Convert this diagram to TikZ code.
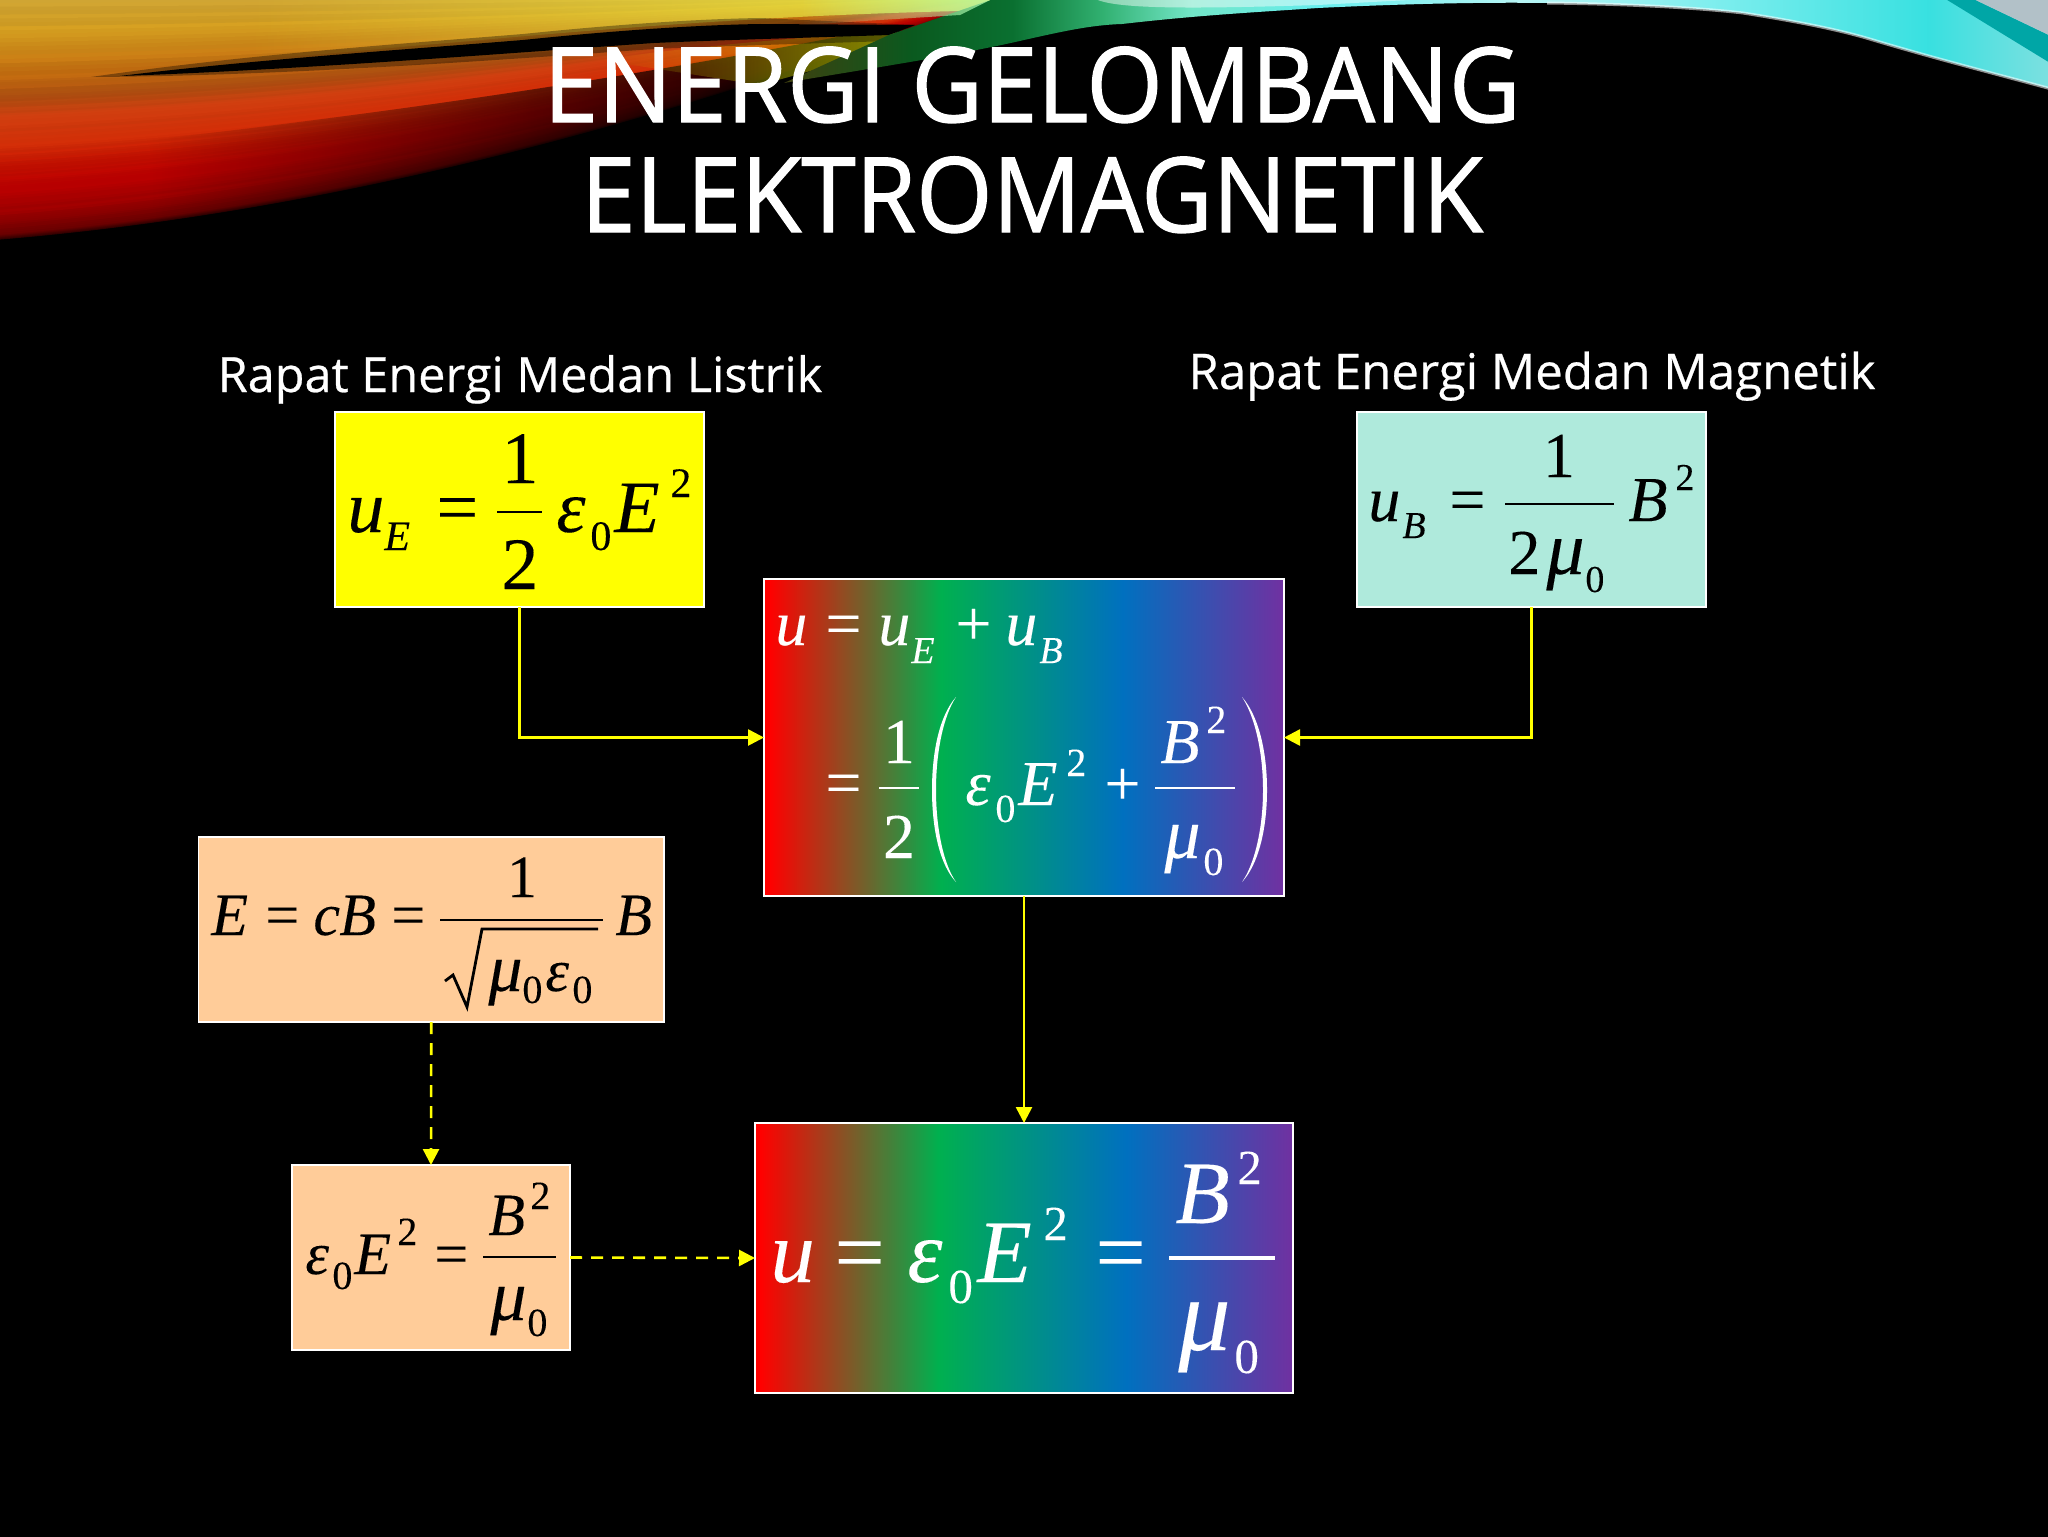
\documentclass[tikz,border=0pt]{standalone}
\usepackage{fontspec}
\setmainfont{Open Sans}
\newfontfamily\titlefont[FakeBold=1.2]{Open Sans}
\newfontfamily\labelfont[FakeBold=0.5]{Open Sans}
\newfontfamily\mathserif[FakeBold=0.12]{Liberation Serif}
\usetikzlibrary{arrows.meta,fadings}
\definecolor{peach}{HTML}{FFCC99}
\definecolor{teal1}{HTML}{AFEADC}
\definecolor{pureyellow}{HTML}{FFFF00}
\pgfdeclarehorizontalshading{rainbowbox}{100bp}{
  rgb(0bp)=(1,0,0); rgb(25.5bp)=(1,0,0);
  rgb(42bp)=(0,0.69,0.31);
  rgb(59.5bp)=(0,0.44,0.75);
  rgb(75bp)=(0.44,0.19,0.63); rgb(100bp)=(0.44,0.19,0.63)}
\pgfdeclarehorizontalshading{swooshright}{100bp}{
  rgb(0bp)=(0.25,0.25,0.06); rgb(25bp)=(0.25,0.25,0.06);
  rgb(30bp)=(0.04,0.35,0.12);
  rgb(34bp)=(0.04,0.44,0.19);
  rgb(37.5bp)=(0.19,0.69,0.44);
  rgb(41bp)=(0.45,0.90,0.78);
  rgb(46bp)=(0.40,0.93,0.93);
  rgb(54bp)=(0.72,0.96,0.96);
  rgb(62bp)=(0.48,0.93,0.93);
  rgb(70bp)=(0.22,0.88,0.88);
  rgb(75bp)=(0.5,0.88,0.88); rgb(100bp)=(0.5,0.88,0.88)}
\tikzset{
  eqbox/.style={draw=white,line width=0.9pt,inner sep=0pt,outer sep=0pt,anchor=north west},
  rainbow/.style={eqbox,shading=rainbowbox},
  conn/.style={draw=pureyellow,line width=1.3pt,-{Triangle[width=8pt,length=8pt,fill=pureyellow]}},
  dashconn/.style={conn,dash pattern=on 6pt off 4.5pt},
  titletext/.style={text=white,inner sep=0pt,anchor=base},
  sublabel/.style={text=white,inner sep=0pt,anchor=base},
}
\newcounter{mc}
\def\mcol{black}
\newcommand{\mi}[4]{\stepcounter{mc}\node[text=\mcol,inner sep=0pt,anchor=base west] (m\themc) at (#1,#2) {\fontsize{#3}{#3}\selectfont\mathserif\itshape #4};}
\newcommand{\mr}[4]{\stepcounter{mc}\node[text=\mcol,inner sep=0pt,anchor=base west] (m\themc) at (#1,#2) {\fontsize{#3}{#3}\selectfont\mathserif #4};}
\newcommand{\mrc}[4]{\stepcounter{mc}\node[text=\mcol,inner sep=0pt,anchor=base] (m\themc) at (#1,#2) {\fontsize{#3}{#3}\selectfont\mathserif #4};}
\newcommand{\fracbar}[3]{\draw[\mcol,line width=1.4pt] (#1,#3) -- (#2,#3);}
\newcommand{\pxbox}[7]{\node[#1,fill=#3,minimum width=#6*0.5pt-#4*0.5pt,minimum height=#7*0.5pt-#5*0.5pt] (#2) at (#4,#5) {};}
\begin{document}
\begin{tikzpicture}[x=0.5pt,y=-0.5pt]
\useasboundingbox (0,0) rectangle (2048,1536);
\fill[black] (-10,-10) rectangle (2058,1546);
% --- swoosh, left
\pgfmathsetseed{7}
\begin{scope}
\clip (0,0) rectangle (2048,1536);
\foreach \ca/\cb/\ta/\tb in {
  300000/700000/1.0/0.98, 700000/A00000/0.98/0.90, A00000/C00000/0.90/0.79,
  C00000/C81000/0.79/0.71, C81000/D83008/0.71/0.62, D83008/D04010/0.62/0.50,
  D04010/B05010/0.50/0.42, B05010/C87010/0.42/0.33, C87010/D8A020/0.33/0.16,
  D8A020/D0A838/0.16/0.0}{
  \definecolor{cla}{HTML}{\ca}\definecolor{clb}{HTML}{\cb}
  \foreach \i in {0,1,...,9}{
    \pgfmathsetmacro\tval{\ta+(\tb-\ta)*\i/10}
    \pgfmathsetmacro\pct{\i*10}
    \pgfmathsetmacro\shd{random(95,100)}
    \pgfmathsetmacro\ya{-5+\tval*245}
    \pgfmathsetmacro\yb{-5+\tval*220}
    \pgfmathsetmacro\yc{-5+\tval*145}
    \pgfmathsetmacro\yd{-5+\tval*38}
    \colorlet{bandc}{clb!\pct!cla}
    \fill[bandc!\shd!black] (-5,-5) -- (-5,\ya) .. controls (300,\yb) and (600,\yc) .. (900,\yd) -- (1010,-5) -- cycle;
  }
}
% dark fade along lower edge, stronger to the right
\fill[black,path fading=west] (150,235) .. controls (420,190) and (620,140) .. (900,33) -- (900,25) .. controls (720,60) and (500,100) .. (150,140) -- cycle;
% pale yellow toward the top middle
\fill[pureyellow!70!white!92!black,path fading=west,opacity=0.9] (250,-5) -- (250,60) .. controls (500,40) and (700,15) .. (1010,10) -- (1010,-5) -- cycle;
% orange/olive below streak, right end
\fill[pureyellow!60!olive,path fading=west,opacity=0.7] (600,60) .. controls (700,45) and (800,38) .. (900,30) -- (850,60) -- (760,85) -- cycle;
% black streak
\fill[black,opacity=0.35] (91,77) .. controls (250,54) and (400,44) .. (523,34) .. controls (620,24) and (700,19) .. (760,18) -- (915,25) -- (889,41) .. controls (800,44) and (720,46) .. (654,49) .. controls (550,56) and (300,76) .. (91,77) -- cycle;
\fill[black] (120,76) .. controls (250,60) and (400,50) .. (523,40) .. controls (620,30) and (700,25) .. (760,24) -- (915,25) -- (889,35) .. controls (800,38) and (720,40) .. (654,43) .. controls (550,50) and (300,70) .. (120,76) -- cycle;
% --- swoosh, right
\path[shading=swooshright] (1005,-5) -- (889,35) -- (784,83) .. controls (860,70) and (960,55) .. (1024,40) .. controls (1060,32) and (1090,25) .. (1122,24) .. controls (1200,15) and (1260,12) .. (1318,8) .. controls (1400,4) and (1480,2) .. (1547,3) .. controls (1630,4) and (1700,8) .. (1743,13) .. controls (1800,22) and (1840,30) .. (1873,40) .. controls (1940,60) and (2000,75) .. (2055,90) -- (2055,-5) -- cycle;
\fill[white,opacity=0.45] (1090,-5) .. controls (1100,8) and (1160,10) .. (1318,5) -- (1500,-5) -- cycle;
\fill[green!30!white,opacity=0.8,path fading=west] (800,-5) -- (1000,-5) -- (960,15) -- (800,25) -- cycle;
\draw[white,opacity=0.55,line width=1.5pt] (1547,3) .. controls (1630,4) and (1700,8) .. (1743,13) .. controls (1800,22) and (1840,30) .. (1873,40) .. controls (1940,60) and (2000,75) .. (2055,90);
\fill[teal!70!cyan] (1939,-5) -- (2055,66) -- (2055,38) -- (1965,-5) -- cycle;
\fill[cyan!20!gray!60!white] (1965,-5) -- (2055,38) -- (2055,-5) -- cycle;
\end{scope}
% --- title and labels
\node[titletext] (title1) at (1032,122) {\scalebox{0.943}[1]{\fontsize{52}{52}\selectfont\titlefont ENERGI GELOMBANG}};
\node[titletext] (title2) at (1032,232) {\scalebox{0.943}[1]{\fontsize{52}{52}\selectfont\titlefont ELEKTROMAGNETIK}};
\node[sublabel] (lab1) at (520,392) {\fontsize{24.3}{24.3}\selectfont\labelfont Rapat Energi Medan Listrik};
\node[sublabel] (lab2) at (1532,389) {\fontsize{24.6}{24.6}\selectfont\labelfont Rapat Energi Medan Magnetik};
% --- boxes
\pxbox{eqbox}{yel}{pureyellow}{335}{412}{704}{607}
\pxbox{eqbox}{tea}{teal1}{1357}{412}{1706}{607}
\node[rainbow,minimum width=260pt,minimum height=158.5pt] (ctr) at (764,579) {};
\node[rainbow,minimum width=269pt,minimum height=135pt] (bot) at (755,1123) {};
\pxbox{eqbox}{pa}{peach}{198.5}{837}{664}{1022}
\pxbox{eqbox}{pb}{peach}{292}{1165}{570}{1350}
% --- connectors
\draw[conn] (yel.south) |- (ctr.west);
\draw[conn] (tea.south) |- (ctr.east);
\draw[conn] (ctr.south) -- (bot.north);
\draw[dashconn] (pa.south) -- (pb.north);
\draw[dashconn] (pb.east) -- (bot.west);
% --- yellow equation
\mi{347}{532}{37}{u}
\mi{384}{550}{21}{E}
\mr{436}{532}{37}{=}
\mrc{520}{483}{37}{1}
\fracbar{497}{542}{512}
\mrc{520}{589}{37}{2}
\mi{556}{532}{37}{ε}
\mr{590}{550}{21}{0}
\mi{614}{532}{37}{E}
\mr{670}{497}{21}{2}
% --- teal equation
\mi{1368}{521}{32}{u}
\mi{1402}{538}{19}{B}
\mr{1449}{521}{32}{=}
\mrc{1559}{477}{32}{1}
\fracbar{1505}{1614}{504}
\mr{1508}{574}{32}{2}
\mi{1546}{574}{38}{μ}
\mr{1585}{592}{19}{0}
\mi{1628}{521}{32}{B}
\mr{1675}{490}{19}{2}
% --- centre equation
\def\mcol{white}
\mi{775}{645}{32}{u}
\mr{825}{645}{32}{=}
\mi{878}{645}{32}{u}
\mi{911}{663}{19}{E}
\mr{955}{645}{32}{+}
\mi{1005}{645}{32}{u}
\mi{1039}{663}{19}{B}
\mr{825}{804}{32}{=}
\mrc{899}{763}{32}{1}
\fracbar{879}{919}{788}
\mrc{899}{858}{32}{2}
\fill[white] (956,697) .. controls (940,715) and (932,750) .. (932,790) .. controls (932,830) and (940,865) .. (956,882) .. controls (944,865) and (936,830) .. (936,790) .. controls (936,750) and (944,715) .. (956,697) -- cycle;
\mi{965}{805}{32}{ε}
\mr{995}{822}{20}{0}
\mi{1018}{805}{32}{E}
\mr{1066}{776}{20}{2}
\mr{1104}{805}{32}{+}
\mi{1160}{763}{32}{B}
\mr{1206}{733}{20}{2}
\fracbar{1155}{1235}{788}
\mi{1164}{858}{36}{μ}
\mr{1203}{875}{20}{0}
\fill[white] (1242,697) .. controls (1258,715) and (1267,750) .. (1267,790) .. controls (1267,830) and (1258,865) .. (1242,882) .. controls (1254,865) and (1263,830) .. (1263,790) .. controls (1263,750) and (1254,715) .. (1242,697) -- cycle;
% --- bottom equation
\mi{770}{1282}{44.5}{u}
\mr{834}{1282}{44.5}{=}
\mi{907}{1282}{44.5}{ε}
\mr{948}{1303}{24.5}{0}
\mi{977}{1282}{44.5}{E}
\mr{1043}{1240}{24.5}{2}
\mr{1095}{1282}{44.5}{=}
\draw[white,line width=2pt] (1169,1258) -- (1275,1258);
\mi{1175}{1223}{44.5}{B}
\mr{1237}{1184}{24.5}{2}
\mi{1178}{1350}{52}{μ}
\mr{1234}{1373}{24.5}{0}
% --- peach 1
\def\mcol{black}
\mi{211}{935}{30}{E}
\mr{265}{935}{30}{=}
\mi{313}{935}{30}{c}
\mi{339}{935}{30}{B}
\mr{391}{935}{30}{=}
\mrc{522}{897}{30}{1}
\fracbar{440}{603}{920}
\draw[black,line width=1.4pt,line join=miter] (445,981) -- (453,975) -- (467,1007) -- (482,929) -- (598,929);
\mi{488}{991}{34}{μ}
\mr{522}{1003}{20}{0}
\mi{545}{991}{30}{ε}
\mr{572}{1003}{20}{0}
\mi{615}{935}{30}{B}
% --- peach 2
\mi{305}{1274}{30}{ε}
\mr{332}{1289}{20}{0}
\mi{354}{1274}{30}{E}
\mr{397}{1245}{20}{2}
\mr{434}{1274}{30}{=}
\fracbar{483}{556}{1257}
\mi{488}{1235}{30}{B}
\mr{530}{1209}{20}{2}
\mi{490}{1320}{36}{μ}
\mr{527}{1336}{20}{0}
\end{tikzpicture}
\end{document}
